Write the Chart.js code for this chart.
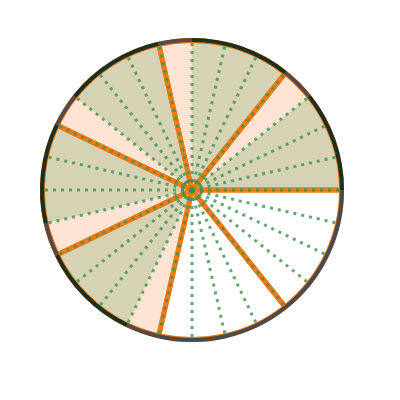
<!DOCTYPE html>
<html><head><meta charset="utf-8">
<script src="https://cdn.jsdelivr.net/npm/chart.js@4"></script>
<style>body{margin:0;background:#fff}#w{position:relative;width:400px;height:400px}canvas{position:absolute;left:0;top:0}</style>
</head><body><div id="w"><canvas id="c1" width="400" height="400"></canvas><canvas id="c2" width="400" height="400"></canvas><canvas id="c3" width="400" height="400"></canvas><canvas id="c4" width="400" height="400"></canvas></div>
<script>
const sliceValues = [4,4,1,3,1,3,1,3,1,3,1,3];
const sliceKinds = ['w','w','p','o','p','o','p','o','p','o','p','o'];
const groupValues = [4,4,4,4,4,4,4];
const spokeLabels = Array.from({length:28},(_, i)=>'S'+(i+1));
const spokeValues = new Array(28).fill(0);

const fillCol = {w:'#ffffff', p:'#ffe4d4', o:'#d6d2b4'};
const ringCol = {w:'#4a4a4a', p:'#5a4842', o:'#1e2f1e'};
const pad = {left:40, right:56, top:38, bottom:58};
const base = {responsive:false, animation:false, rotation:90, layout:{padding:pad},
  plugins:{legend:{display:false}, tooltip:{enabled:false}}};

new Chart(document.getElementById('c1'), {type:'pie',
  data:{labels:sliceKinds, datasets:[{data:sliceValues, backgroundColor:sliceKinds.map(k=>fillCol[k]), borderWidth:0}]},
  options:base});
new Chart(document.getElementById('c2'), {type:'pie',
  data:{labels:groupValues.map((_, i)=>'G'+i), datasets:[{data:groupValues, backgroundColor:'rgba(0,0,0,0)', borderColor:'#f07a14', borderWidth:5}]},
  options:base});
new Chart(document.getElementById('c3'), {type:'doughnut',
  data:{labels:sliceKinds, datasets:[{data:sliceValues, backgroundColor:sliceKinds.map(k=>ringCol[k]), borderWidth:0}]},
  options:Object.assign({}, base, {cutout:'97.3%'})});
new Chart(document.getElementById('c4'), {type:'radar',
  data:{labels:spokeLabels, datasets:[{data:spokeValues, pointRadius:0, borderWidth:0, fill:false}]},
  options:{responsive:false, animation:false, layout:{padding:{left:42,right:58,top:40,bottom:60}},
    plugins:{legend:{display:false}, tooltip:{enabled:false}},
    scales:{r:{min:0, max:1, ticks:{display:false, stepSize:1}, pointLabels:{display:false},
      grid:{display:false},
      angleLines:{color:'rgba(60,145,80,0.8)', lineWidth:3, borderDash:[3,5]}}}}});
</script></body></html>
